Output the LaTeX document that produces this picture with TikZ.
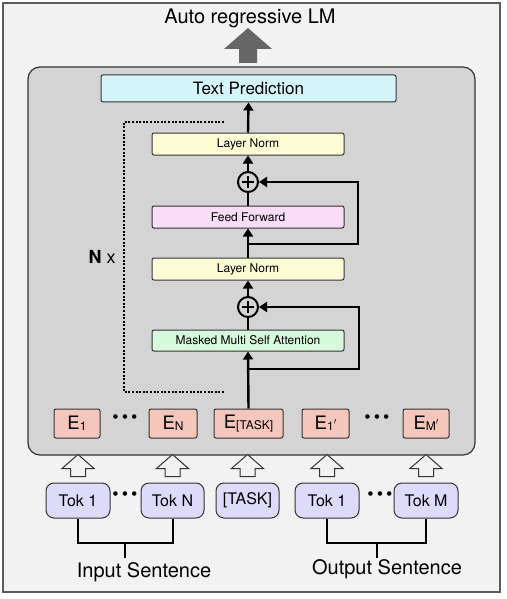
\documentclass[tikz,border=0pt]{standalone}
\usepackage{fontspec}
\setmainfont{TeX Gyre Heros}
\usetikzlibrary{arrows.meta,calc}
\newcommand{\fsz}[1]{\fontsize{#1}{#1}\selectfont}
\newcommand{\prm}{\raisebox{5pt}{\fsz{9}$\prime$}}
\definecolor{outerbg}{HTML}{F2F2F2}
\definecolor{innerbg}{HTML}{D4D4D4}
\definecolor{tpcol}{HTML}{D4F5F9}
\definecolor{lncol}{HTML}{FCFCD5}
\definecolor{ffcol}{HTML}{F9DCF5}
\definecolor{msacol}{HTML}{D6FADB}
\definecolor{ecol}{HTML}{F4C6BC}
\definecolor{tokcol}{HTML}{DDDAFA}
\definecolor{garrow}{HTML}{666666}
\definecolor{edge}{HTML}{333333}
\tikzset{
  blk/.style={draw=edge, line width=1pt, rounded corners=2pt, inner sep=0pt, minimum width=192pt, minimum height=22pt, font=\fsz{12}},
  ebox/.style={draw=edge, line width=1pt, rounded corners=2pt, fill=ecol, inner sep=0pt, minimum height=29pt, font=\fsz{18.5}},
  tokbox/.style={draw=edge, line width=1pt, rounded corners=8pt, fill=tokcol, inner sep=0pt, minimum height=35pt, minimum width=64pt, font=\fsz{16}},
  pluss/.style={draw=black, line width=2pt, circle, inner sep=0pt, minimum size=20pt, path picture={
     \draw[line width=2pt] ([xshift=-6pt]path picture bounding box.center) -- ([xshift=6pt]path picture bounding box.center);
     \draw[line width=2pt] ([yshift=-6pt]path picture bounding box.center) -- ([yshift=6pt]path picture bounding box.center);}},
  conn/.style={line width=2.4pt, black},
  arr/.style={conn, -{Triangle[length=8pt,width=10pt]}},
  hollow/.style={draw=edge, line width=1pt, fill=outerbg, line join=miter},
  dotsn/.style={font=\bfseries\fsz{30}, inner sep=0pt},
  lab/.style={font=\fsz{20}, inner sep=0pt}
}
\begin{document}
\begin{tikzpicture}[x=1pt,y=-1pt]
\useasboundingbox (0,0) rectangle (506,599);
% frames
\draw[draw=edge!80, line width=1.2pt, fill=outerbg] (3,3) rectangle (500,592);
\draw[draw=edge, line width=1.2pt, fill=innerbg, rounded corners=12pt] (28,67) rectangle (475,455);
% title and big arrow
\node[font=\fsz{20}, inner sep=0pt] (title) at (250,18) {Auto regressive LM};
\fill[garrow] (239,63) -- (239,49) -- (224,49) -- (248,28) -- (272,49) -- (257,49) -- (257,63) -- cycle;
% blocks
\node[blk, fill=tpcol, minimum width=295pt, minimum height=27pt, font=\fsz{17}] (tp) at (248.5,88.5) {Text Prediction};
\node[blk, fill=lncol] (ln2) at (248,144) {Layer Norm};
\node[pluss] (p2) at (248,182) {};
\node[blk, fill=ffcol] (ff) at (248,217) {Feed Forward};
\node[blk, fill=lncol] (ln1) at (248,269) {Layer Norm};
\node[pluss] (p1) at (248,307) {};
\node[blk, fill=msacol, minimum height=21pt] (msa) at (248,340.5) {Masked Multi Self Attention};
% N x
\node[inner sep=0pt, font=\fsz{18}] (nx) at (102,257) {\textbf{N} x};
% dotted frame
\coordinate (dt1) at (224,122);
\coordinate (dt2) at (124,122);
\coordinate (dt3) at (124,392);
\coordinate (dt4) at (224,392);
\draw[line width=2pt, dash pattern=on 2pt off 1.6pt] (dt1) -- (dt2) -- (dt3) -- (dt4);
% embeddings
\node[ebox, minimum width=46pt] (e1) at (77,423.5) {E\raisebox{-1.5pt}{\fsz{12}1}};
\node[ebox, minimum width=48pt] (en) at (173,423.5) {E\raisebox{-1.5pt}{\fsz{12}N}};
\node[ebox, minimum width=69pt] (et) at (248.5,423.5) {E\raisebox{-1.5pt}{\fsz{12}[TASK]}};
\node[ebox, minimum width=47pt] (e1p) at (325.5,423.5) {E\raisebox{-1.5pt}{\fsz{12}1}\prm};
\node[ebox, minimum width=46pt] (em) at (426,423.5) {E\raisebox{-1.5pt}{\fsz{12}M}\prm};
\node[dotsn] (d1) at (125,420) {·\hspace{1pt}·\hspace{1pt}·};
\node[dotsn] (d2) at (377,420) {·\hspace{1pt}·\hspace{1pt}·};
% tokens
\node[tokbox] (t1) at (78,500.5) {Tok 1};
\node[tokbox, minimum width=63pt] (tn) at (172.5,500.5) {Tok N};
\node[tokbox, minimum width=63pt] (tt) at (247.5,500.5) {[TASK]};
\node[tokbox] (t1b) at (327,500.5) {Tok 1};
\node[tokbox] (tm) at (426,500.5) {Tok M};
\node[dotsn] (d3) at (125,497) {·\hspace{1pt}·\hspace{1pt}·};
\node[dotsn] (d4) at (380,497) {·\hspace{1pt}·\hspace{1pt}·};
% hollow arrows
\foreach \t in {t1,tn,tt,t1b,tm}{
  \draw[hollow, shift={(\t.north)}] (-7.5,-6) -- (-7.5,-14) -- (-16,-14) -- (0,-28) -- (16,-14) -- (7.5,-14) -- (7.5,-6) -- cycle;
}
% main flow
\draw[arr] (et.north) -- (msa.south);
\draw[conn] (msa.north) -- (p1.south);
\draw[arr] (p1.north) -- (ln1.south);
\draw[arr] (ln1.north) -- (ff.south);
\draw[conn] (ff.north) -- (p2.south);
\draw[arr] (p2.north) -- (ln2.south);
\draw[arr] (ln2.north) -- (tp.south);
% residuals
\coordinate (b1) at (248,369);
\coordinate (c1) at (359,369);
\draw[arr] (b1) -- (c1) |- (p1.east);
\coordinate (b2) at (248,244);
\coordinate (c2) at (358,244);
\draw[arr] (b2) -- (c2) |- (p2.east);
% brackets
\coordinate (ib) at (125,543);
\coordinate (ie) at (125,558);
\draw[line width=2pt] (t1.south) |- (ib) -| (tn.south);
\draw[line width=2pt] (ib) -- (ie);
\node[lab] (inlab) at (144,572) {Input Sentence};
\coordinate (ob) at (377,543);
\coordinate (oe) at (377,558);
\draw[line width=2pt] (t1b.south) |- (ob) -| (tm.south);
\draw[line width=2pt] (ob) -- (oe);
\node[lab] (outlab) at (387,569) {Output Sentence};
\end{tikzpicture}
\end{document}
